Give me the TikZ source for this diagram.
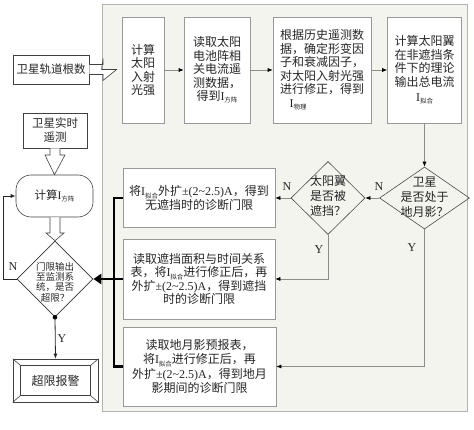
\documentclass[tikz,border=0pt]{standalone}
\usepackage{fontspec}
\setmainfont{Noto Sans CJK SC}
\newfontfamily\latf{Liberation Serif}
\usetikzlibrary{shapes.geometric,arrows.meta}
\newcommand\subt[1]{\raisebox{-0.35ex}{\fontsize{6.5}{6.5}\selectfont #1}}
\newcommand\Iv[1]{{\latf I}\subt{#1}}
\newcommand\rng{{\latf ±(2\textasciitilde 2.5)A}}
\definecolor{bgc}{RGB}{243,244,238}
\begin{document}
\begin{tikzpicture}[x=1pt,y=-1pt,
  txt/.style={font=\fontsize{12}{13.5}\selectfont, text=black!85, align=center, inner sep=1pt},
  ibox/.style={txt, draw=black!40, fill=white, line width=0.6pt},
  lbox/.style={txt, draw=black!75, fill=white, line width=0.6pt},
  ddia/.style={diamond, draw=black!70, line width=0.6pt, inner sep=0pt},
  lab/.style={font=\latf\fontsize{12}{12}\selectfont, text=black!85, inner sep=0pt},
  conn/.style={draw=black!45, line width=0.6pt, -{Latex[length=5pt,width=4pt,black]}},
  blk/.style={draw=black!85, line width=0.8pt, -{Latex[length=5pt,width=4pt]}},
  thk/.style={draw=black, line width=2.4pt},
  hol/.style={draw=black!75, fill=white, line width=0.6pt, line join=miter}]
\useasboundingbox (0,0) rectangle (474,430);
% container
\node[draw=black!30, fill=bgc, line width=0.8pt, minimum width=365pt, minimum height=407pt, inner sep=0pt] (cont) at (284.5,207.5) {};
% top row
\node[ibox, minimum width=42pt, minimum height=106pt] (b1) at (143,70) {计算\\太阳\\入射\\光强};
\node[ibox, minimum width=66pt, minimum height=106pt] (b2) at (217,70) {读取太阳\\电池阵相\\关电流遥\\测数据，\\得到\Iv{方阵}};
\node[ibox, minimum width=98pt, minimum height=106pt, align=left] (b3) at (322,70) {根据历史遥测数\\据，确定形变因\\子和衰减因子，\\对太阳入射光强\\进行修正，得到\\\hspace{0.8em}\Iv{物理}};
\node[ibox, minimum width=74pt, minimum height=106pt] (b4) at (424.5,70) {计算太阳翼\\在非遮挡条\\件下的理论\\输出总电流\\[2pt]\Iv{拟合}};
\draw[conn] (b1) -- (b2);
\draw[conn] (b2) -- (b3);
\draw[conn] (b3) -- (b4);
% decision diamonds
\node[ddia, minimum width=90pt, minimum height=62pt] (d2) at (424.5,198) {};
\node[txt, font=\fontsize{12}{15}\selectfont] (d2t) at (424.5,197) {卫星\\是否处于\\地月影？};
\node[ddia, minimum width=74pt, minimum height=73pt] (d1) at (328,198) {};
\node[txt, font=\fontsize{12}{15}\selectfont] (d1t) at (328,196) {太阳翼\\是否被\\遮挡？};
\draw[conn] (b4) -- (d2);
% result boxes
\node[ibox, minimum width=152pt, minimum height=59pt] (bA) at (199,198) {将\Iv{拟合}外扩\rng，得到\\无遮挡时的诊断门限};
\node[ibox, minimum width=152pt, minimum height=80pt] (bB) at (199,279) {读取遮挡面积与时间关系\\表，将\Iv{拟合}进行修正后，再\\外扩\rng，得到遮挡\\时的诊断门限};
\node[ibox, minimum width=153pt, minimum height=79pt, font=\fontsize{12}{14.5}\selectfont] (bC) at (199.5,366.5) {读取地月影预报表，\\将\Iv{拟合}进行修正后，再\\外扩\rng，得到地月\\影期间的诊断门限};
\draw[conn] (d2.west) -- (d1.east);
\node[lab] (n2) at (379,187) {N};
\draw[conn] (d1.west) -- (bA.east);
\node[lab] (n1) at (287,187) {N};
\draw[conn] (d1.south) |- (bB.east);
\node[lab] (y1) at (319,250) {Y};
\draw[conn] (d2.south) |- (bC.east);
\node[lab] (y2) at (412,248) {Y};
% left column
\node[lbox, minimum width=76pt, minimum height=29pt, font=\fontsize{11.5}{13}\selectfont] (orb) at (51,69.5) {卫星轨道根数};
\node[lbox, minimum width=64pt, minimum height=35pt, font=\fontsize{11.5}{14}\selectfont] (tel) at (55,130.5) {卫星实时\\遥测};
\node[lbox, rounded corners=15pt, minimum width=77pt, minimum height=42pt, font=\fontsize{11.5}{13}\selectfont] (calc) at (54.5,196) {计算\Iv{方阵}};
\node[ddia, fill=white, draw=black!80, minimum width=76pt, minimum height=76pt] (ld) at (55,279) {};
\node[txt, font=\fontsize{9.5}{10.3}\selectfont] (ldt) at (55,282) {门限输出\\至监测系\\统，是否\\超限？};
\node[lbox, minimum width=85pt, minimum height=43pt] (alarm) at (55.5,380.5) {超限报警};
\draw[draw=black!75, line width=0.6pt] ([shift={(8,7)}]alarm.north west) rectangle ([shift={(-8,-7)}]alarm.south east);
\draw[draw=black!75, line width=0.6pt] (alarm.north west) -- ++(8,7) (alarm.north east) -- ++(-8,7) (alarm.south west) -- ++(8,-7) (alarm.south east) -- ++(-8,-7);
% hollow arrows
\draw[hol] (orb.east |- 0,64.5) -- (103,64.5) -- (103,58.5) -- (cont.west |- 0,69.5) -- ++(15,0) coordinate (hat) -- (103,80.5) -- (103,74.5) -- (orb.east |- 0,74.5);
\draw[hol] (50,0 |- tel.south) -- (50,155) -- (45,155) -- (calc.north) -- (65,155) -- (60,155) -- (60,0 |- tel.south);
\draw[hol] (50,0 |- calc.south) -- (50,233) -- (46,233) -- (ld.north) -- (64,233) -- (60,233) -- (60,0 |- calc.south);
% loop N
\draw[blk] (ld.west) -- ++(-13,0) |- (calc.west);
\node[lab] (nl) at (13,267) {N};
% Y to alarm
\fill[black] (ld.south) circle (2.3pt);
\draw[blk] (ld.south) -- (alarm.north);
\node[lab] (yl) at (62,339) {Y};
% thick bracket
\draw[thk] (bA.west) -- ++(-9,0) |- (bC.west);
\draw[thk, -{Triangle[length=8pt,width=10pt]}] (bB.west) -- (ld.east);
\end{tikzpicture}
\end{document}
